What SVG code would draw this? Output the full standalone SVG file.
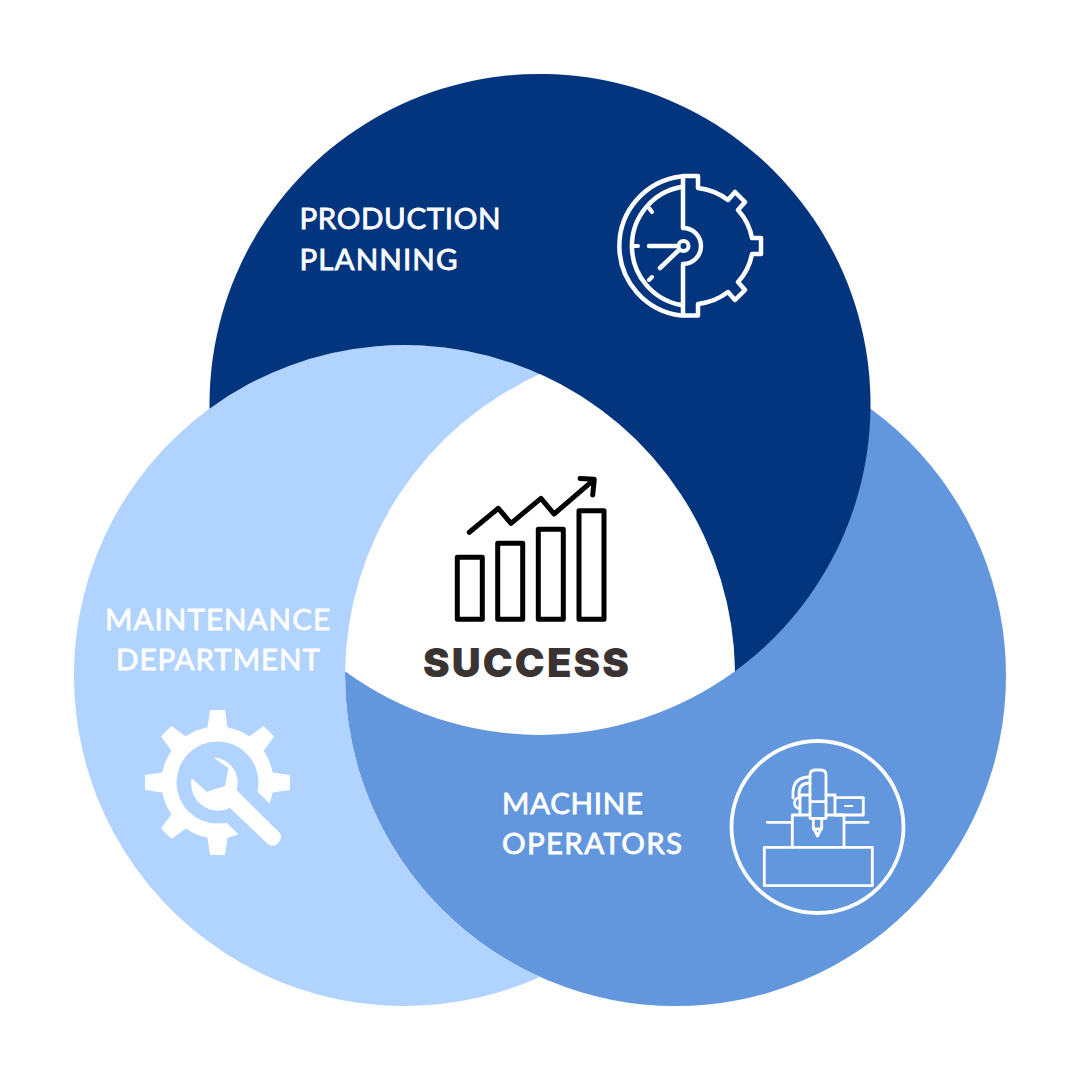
<svg xmlns="http://www.w3.org/2000/svg" width="1080" height="1080" viewBox="0 0 1080 1080">
<style>
.lbl{font-family:"Lato","Open Sans","Liberation Sans",sans-serif;font-size:29.500px;font-weight:400;fill:#fff;stroke:#fff;stroke-width:.8px}
.ico{fill:none;stroke:#fff;stroke-linecap:round;stroke-linejoin:round}
.blk{fill:none;stroke:#000;stroke-width:5;stroke-linejoin:round;stroke-linecap:round}
</style>
<defs><polygon id="tooth" points="-7.5,-72.5 7.5,-72.5 10.5,-52 -10.5,-52"/></defs>
<rect width="1080" height="1080" fill="#fff"/>
<g id="circles">
<circle cx="675.500" cy="675.500" r="330.500" fill="#6397DD"/>
<path d="M540 374.100A330.500 330.500 0 1 0 540 976.900A330.500 330.500 0 0 1 540 374.100Z" fill="#B0D3FF"/>
<path d="M209.550 408.700A330.500 330.500 0 1 1 734.950 671.300A330.500 330.500 0 0 0 209.550 408.700Z" fill="#03357F"/>
<path d="M540 374.100A330.500 330.500 0 0 1 734.950 671.300A330.500 330.500 0 0 1 345.050 671.300A330.500 330.500 0 0 1 540 374.100Z" fill="#fff"/>
</g>
<g id="production-planning">
<text class="lbl" x="299.500" y="229" textLength="201" lengthAdjust="spacing">PRODUCTION</text>
<text class="lbl" x="299.500" y="270" textLength="158" lengthAdjust="spacing">PLANNING</text>
<g class="ico" stroke-width="4.500">
<path d="M681 176.500A70 70 0 0 0 681 315.500"/>
<path d="M681 187A60 60 0 0 0 681 305"/>
<path d="M683 177V228A18 18 0 0 1 683 264V315"/>
<path d="M683 176H698V188Q715 190 728 200L735 192L745 202L738 210Q749 222 752 238H761V254H752Q749 270 738 282L745 290L735 300L728 292Q715 302 698 304V315.500H683"/>
<circle cx="683.500" cy="246" r="5" stroke-width="4"/>
<path d="M649 246H678M660 268L679 250"/>
<path d="M649 208L652 212M633 246H638M649 280L652 277" stroke-width="4"/>
</g>
</g>
<g id="maintenance-department">
<text class="lbl" x="105" y="630" textLength="225" lengthAdjust="spacing">MAINTENANCE</text>
<text class="lbl" x="116" y="670" textLength="204" lengthAdjust="spacing">DEPARTMENT</text>
<g transform="translate(217.500,782.500)" fill="#fff">
<circle r="56"/>
<use href="#tooth"/>
<use href="#tooth" transform="rotate(45)"/>
<use href="#tooth" transform="rotate(90)"/>
<use href="#tooth" transform="rotate(135)"/>
<use href="#tooth" transform="rotate(180)"/>
<use href="#tooth" transform="rotate(225)"/>
<use href="#tooth" transform="rotate(270)"/>
<use href="#tooth" transform="rotate(315)"/>
<circle r="41" fill="#B0D3FF"/>
<path d="M0 0L82 82" stroke="#B0D3FF" stroke-width="44"/>
</g>
<path d="M213.500 757.500A25 25 0 0 1 236.500 790L280 833.300A8.500 8.500 0 0 1 268.300 844.500L230 808A27 27 0 0 1 191.700 778.300L206.700 791.700L225 786L228.300 768.300Z" fill="#fff"/>
</g>
<g id="machine-operators">
<text class="lbl" x="502" y="814" textLength="141" lengthAdjust="spacing">MACHINE</text>
<text class="lbl" x="502" y="854" textLength="180" lengthAdjust="spacing">OPERATORS</text>
<circle class="ico" cx="817.500" cy="827" r="86" stroke-width="3.800"/>
<g class="ico" stroke-width="2.800" stroke-linecap="butt">
<rect x="764.300" y="847.300" width="108" height="38.400"/>
<path d="M792.300 847.300V815H810M826 815H844V847.300M767.300 822.300H792.300M844 822.300H868.300"/>
<path d="M810 801.700V775Q810 770 815 770H821Q826 770 826 775V818.300H810V801.700H826"/>
<path d="M813.300 818.300V829H821.700V818.300M814 829L817.500 836L821 829"/>
<path d="M800 815V795H810M826 795H835V815M835 797.700H863.300V815H835"/>
<path d="M845 806H852.300" stroke-width="2"/>
<path d="M810 777Q793 777 793 793V798M810 783Q799 783 799 793V795"/>
<path d="M800 797.500A5.500 5.500 0 0 0 800 808.500"/>
</g>
</g>
<g id="success">
<rect class="blk" x="457.300" y="557.300" width="25" height="62"/>
<rect class="blk" x="497.700" y="543.300" width="25" height="76"/>
<rect class="blk" x="538.300" y="529.300" width="25" height="90"/>
<rect class="blk" x="579" y="510.700" width="25" height="108.600"/>
<path class="blk" d="M469.300 532.300L498.300 508.300L511 523.300L541 498.300L554 514L591.700 481.700M580 478.500L594.300 479.300L592.700 495"/>
<text x="423" y="677" textLength="206" lengthAdjust="spacing" style="font-family:Inter,'Liberation Sans',sans-serif;font-size:40px;font-weight:900;fill:#3B3331">SUCCESS</text>
</g>
</svg>
